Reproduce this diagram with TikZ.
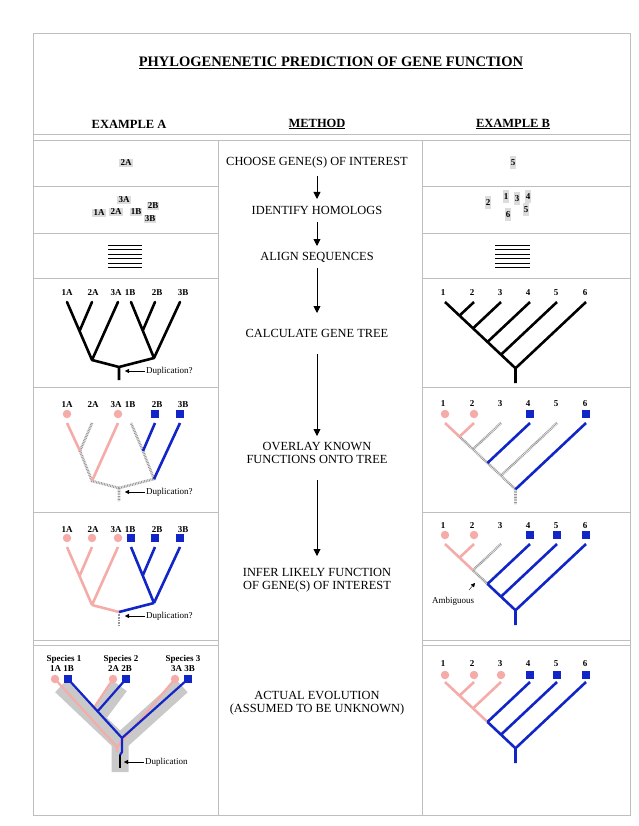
\documentclass[tikz,border=0pt]{standalone}
\usepackage{fontspec}
\setmainfont{Liberation Serif}
\usetikzlibrary{arrows.meta,calc}
\definecolor{pk}{RGB}{245,172,168}
\definecolor{bl}{RGB}{18,38,200}
\definecolor{hg}{RGB}{150,150,150}
\definecolor{cellg}{RGB}{190,190,190}
\definecolor{boxg}{RGB}{220,220,220}
\tikzset{
 cell/.style={draw=cellg,line width=0.8pt},
 blk/.style={line width=2.6pt,black},
 pkl/.style={line width=2.6pt,pk},
 bll/.style={line width=2.6pt,bl},
 hgl/.style={line width=2.6pt,hg,dash pattern=on 0.8pt off 0.8pt},
 lab/.style={font=\bfseries\fontsize{9}{9.5}\selectfont,inner sep=0.5pt},
 meth/.style={font=\fontsize{12.4}{13.2}\selectfont,align=center},
 hd/.style={font=\bfseries\fontsize{12.5}{13}\selectfont},
 gbox/.style={font=\bfseries\fontsize{9}{9.5}\selectfont,fill=boxg,inner sep=1.2pt},
 gtall/.style={gbox,minimum height=13pt},
 flow/.style={line width=0.9pt,-{Triangle[length=7pt,width=7pt]}},
 dupa/.style={line width=0.4pt,-{Triangle[length=4pt,width=4pt]}},
 dupt/.style={font=\fontsize{9}{9.5}\selectfont,anchor=west,inner sep=1pt},
 pdot/.style={circle,fill=pk,inner sep=0pt,minimum size=8.5pt},
 bsq/.style={rectangle,fill=bl,inner sep=0pt,minimum size=8pt},
}
\newcommand\mkA[2]{%
 \coordinate (#1t1) at (67,302+#2); \coordinate (#1t2) at (92,302+#2);
 \coordinate (#1t3) at (118,302+#2); \coordinate (#1t4) at (131,302+#2);
 \coordinate (#1t5) at (155,302+#2); \coordinate (#1t6) at (180,302+#2);
 \coordinate (#1j1) at (80,330+#2); \coordinate (#1nA) at (92,360+#2);
 \coordinate (#1j2) at (143,330+#2); \coordinate (#1nB) at (154,358+#2);
 \coordinate (#1r) at (119,367+#2); \coordinate (#1s) at (119,380+#2);
 \coordinate (#1d) at (145,371+#2);}
\newcommand\mkB[2]{%
 \foreach \k/\xx in {1/445,2/474,3/501,4/530,5/557,6/586}{
  \coordinate (#1t\k) at (\xx,302+#2);
  \coordinate (#1j\k) at ({(445+\xx)/2},{302+#2+0.94*(\xx-445)/2});}
 \coordinate (#1s) at (515.5,383+#2);}
\begin{document}
\begin{tikzpicture}[x=1pt,y=-1pt]
\useasboundingbox (0,0) rectangle (638,826);
% grid
\draw[cell] (33,33) rectangle (630,815);
\draw[cell] (33,134) -- (630,134) (33,140) -- (630,140);
\draw[cell] (218,140) -- (218,815) (422,140) -- (422,815);
\foreach \yy in {186,233,278,387,512,640,645}{
 \draw[cell] (33,\yy) -- (218,\yy) (422,\yy) -- (630,\yy);}
% headings
\node[hd,font=\bfseries\fontsize{14.5}{15}\selectfont] (title) at (331,63) {\underline{PHYLOGENENETIC PREDICTION OF GENE FUNCTION}};
\node[hd] (exA) at (129,124) {EXAMPLE A};
\node[hd] (meth) at (317,124) {\underline{METHOD}};
\node[hd] (exB) at (513,124) {\underline{EXAMPLE B}};
% method column
\node[meth] (m1) at (317,163) {CHOOSE GENE(S) OF INTEREST};
\node[meth] (m2) at (317,210) {IDENTIFY HOMOLOGS};
\node[meth] (m3) at (317,257) {ALIGN SEQUENCES};
\node[meth] (m4) at (317,333) {CALCULATE GENE TREE};
\node[meth] (m5) at (317,453) {OVERLAY KNOWN\\FUNCTIONS ONTO TREE};
\node[meth] (m6) at (317,580) {INFER LIKELY FUNCTION\\OF GENE(S) OF INTEREST};
\node[meth] (m7) at (317,703) {ACTUAL EVOLUTION\\(ASSUMED TO BE UNKNOWN)};
\coordinate (a1s) at (317,176); \coordinate (a1e) at (317,199);
\coordinate (a2s) at (317,222); \coordinate (a2e) at (317,246);
\coordinate (a3s) at (317,268); \coordinate (a3e) at (317,313);
\coordinate (a4s) at (317,354); \coordinate (a4e) at (317,436);
\coordinate (a5s) at (317,480); \coordinate (a5e) at (317,556);
\draw[flow] (a1s) -- (a1e); \draw[flow] (a2s) -- (a2e); \draw[flow] (a3s) -- (a3e);
\draw[flow] (a4s) -- (a4e); \draw[flow] (a5s) -- (a5e);
% choose / homologs
\node[gbox] (c2A) at (126,163) {2A};
\node[gbox] (h3A) at (124,200) {3A};
\node[gbox] (h2A) at (116,212) {2A};
\node[gbox] (h1A) at (99,213) {1A};
\node[gbox] (h1B) at (136,212) {1B};
\node[gbox] (h2B) at (153,206) {2B};
\node[gbox] (h3B) at (150,219) {3B};
\node[gtall] (c5) at (513,163) {5};
\node[gtall] (h2) at (488,203) {2};
\node[gtall] (h1) at (506,197) {1};
\node[gtall] (h3) at (517,199) {3};
\node[gtall] (h4) at (528,197) {4};
\node[gtall] (h5) at (526,210) {5};
\node[gtall] (h6) at (508,215) {6};
% alignment lines
\foreach \yy in {245,249.5,254,258.5,263,267.5}{
 \draw[line width=0.9pt] (108,\yy) -- (142,\yy) (495,\yy) -- (530,\yy);}
% ---------- Example A trees ----------
\mkA{p}{0}\mkA{q}{121}\mkA{u}{245}
\foreach \r/\dy/\ly in {p/0/293,q/121/405,u/245/530}{
 \foreach \k/\t/\xx in {1/1A/67,2/2A/93,3/3A/116,4/1B/130,5/2B/157,6/3B/183}
  \node[lab] (\r l\k) at (\xx,\ly) {\t};}
% row 1
\draw[blk,line cap=round] (pt1) -- (pnA) (pt2) -- (pj1) (pt3) -- (pnA);
\draw[blk,line cap=round] (pt6) -- (pnB) (pt4) -- (pnB) (pt5) -- (pj2);
\draw[blk] (pnA) -- (pr) -- (pnB) (pr) -- (ps);
\draw[dupa] (pd) -- ++(-20,0); \node[dupt] (pdt) at (pd) {Duplication?};
% row 2
\draw[hgl] (qt2) -- (qj1) -- (qnA) -- (qr) -- (qnB) -- (qj2) -- (qt4) (qr) -- (qs);
\draw[pkl] (qt1) -- (qj1) (qt3) -- (qnA);
\draw[bll] (qt5) -- (qj2) (qt6) -- (qnB);
\draw[dupa] (qd) -- ++(-20,0); \node[dupt] (qdt) at (qd) {Duplication?};
\node[pdot] (qm1) at ($(qt1)+(0,-9)$) {}; \node[pdot] (qm3) at ($(qt3)+(0,-9)$) {};
\node[bsq] (qm5) at ($(qt5)+(0,-9)$) {}; \node[bsq] (qm6) at ($(qt6)+(0,-9)$) {};
% row 3
\draw[hgl] (ur) -- (us);
\draw[pkl] (ut1) -- (unA) (ut2) -- (uj1) (ut3) -- (unA) (unA) -- (ur);
\draw[bll] (ut4) -- (unB) (ut5) -- (uj2) (ut6) -- (unB) (unB) -- (ur);
\draw[dupa] (ud) -- ++(-20,0); \node[dupt] (udt) at (ud) {Duplication?};
\foreach \k in {1,2,3}{\node[pdot] (um\k) at ($(ut\k)+(0,-9)$) {};}
\foreach \k in {4,5,6}{\node[bsq] (um\k) at ($(ut\k)+(0,-9)$) {};}
% row 4 species tree
\node[lab] (sp1) at (64,659) {Species 1};
\node[lab] (sp2) at (121,659) {Species 2};
\node[lab] (sp3) at (183,659) {Species 3};
\node[lab] (g1) at (62,669) {1A 1B};
\node[lab] (g2) at (120,669) {2A 2B};
\node[lab] (g3) at (183,669) {3A 3B};
\coordinate (s1) at (61,686); \coordinate (s2) at (120,686); \coordinate (s3) at (182,686);
\coordinate (sm) at (99,714); \coordinate (sc) at (120,742); \coordinate (sb) at (120,772);
\draw[line width=17pt,boxg!80!gray] (s1) -- (sc) (s2) -- (sm) (s3) -- (sc) (sc) -- (sb);
\coordinate (e1A) at (55,679); \coordinate (e1B) at (68,679);
\coordinate (e2A) at (113,679); \coordinate (e2B) at (126,679);
\coordinate (e3A) at (175,679); \coordinate (e3B) at (188,679);
\coordinate (pkm) at (93,709); \coordinate (pkc) at (117,747); \coordinate (pkb) at (117,752);
\coordinate (blm) at (97,712); \coordinate (blc) at (122,738); \coordinate (blb) at (122,752);
\coordinate (du1) at (120,755); \coordinate (du2) at (120,768);
\draw[line width=2.2pt,pk] (e1A) -- (pkc) (e2A) -- (pkm) (e3A) -- (pkc) -- (pkb);
\draw[line width=2.2pt,bl] (e1B) -- (blc) (e2B) -- (blm) (e3B) -- (blc) -- (blb) -- (du1);
\draw[line width=2.2pt,black] (du1) -- (du2);
\node[pdot] (f1A) at (e1A) {}; \node[bsq] (f1B) at (e1B) {};
\node[pdot] (f2A) at (e2A) {}; \node[bsq] (f2B) at (e2B) {};
\node[pdot] (f3A) at (e3A) {}; \node[bsq] (f3B) at (e3B) {};
\coordinate (vd) at (144,762);
\draw[dupa] (vd) -- (124,762); \node[dupt] (vdt) at (vd) {Duplication};
% ---------- Example B trees ----------
\mkB{P}{0}\mkB{Q}{121}\mkB{U}{242}\mkB{V}{380}
\foreach \r/\ly in {P/293,Q/404,U/526,V/664}{
 \foreach \k/\xx in {1/443,2/472,3/500,4/528,5/556,6/585}
  \node[lab] (\r l\k) at (\xx,\ly) {\k};}
% row 1
\draw[blk] (Pt1) -- (Pj6) -- (Ps);
\foreach \k in {2,...,6}{\draw[blk] (Pt\k) -- (Pj\k);}
% row 2
\draw[hgl] (Qj2) -- (Qj6) -- (Qs) (Qt3) -- (Qj3) (Qt5) -- (Qj5);
\draw[pkl] (Qt1) -- (Qj2) (Qt2) -- (Qj2);
\draw[bll] (Qt4) -- (Qj4) (Qt6) -- (Qj6);
\node[pdot] (Qm1) at ($(Qt1)+(0,-9)$) {}; \node[pdot] (Qm2) at ($(Qt2)+(0,-9)$) {};
\node[bsq] (Qm4) at ($(Qt4)+(0,-9)$) {}; \node[bsq] (Qm6) at ($(Qt6)+(0,-9)$) {};
% row 3
\draw[hgl] (Uj3) -- (Uj4) (Ut3) -- (Uj3);
\draw[pkl] (Ut1) -- (Uj3) (Ut2) -- (Uj2);
\draw[bll] (Uj4) -- (Uj6) -- (Us) (Ut4) -- (Uj4) (Ut5) -- (Uj5) (Ut6) -- (Uj6);
\foreach \k in {1,2}{\node[pdot] (Um\k) at ($(Ut\k)+(0,-9)$) {};}
\foreach \k in {4,5,6}{\node[bsq] (Um\k) at ($(Ut\k)+(0,-9)$) {};}
\node[dupt,anchor=center] (amb) at (453,601) {Ambiguous};
\coordinate (ama) at (469,590); \coordinate (amb2) at (475,583);
\draw[dupa] (ama) -- (amb2);
% row 4
\draw[pkl] (Vt1) -- (Vj4) (Vt2) -- (Vj2) (Vt3) -- (Vj3);
\draw[bll] (Vj4) -- (Vj6) -- (Vs) (Vt4) -- (Vj4) (Vt5) -- (Vj5) (Vt6) -- (Vj6);
\foreach \k in {1,2,3}{\node[pdot] (Vm\k) at ($(Vt\k)+(0,-7)$) {};}
\foreach \k in {4,5,6}{\node[bsq] (Vm\k) at ($(Vt\k)+(0,-7)$) {};}
\end{tikzpicture}
\end{document}
